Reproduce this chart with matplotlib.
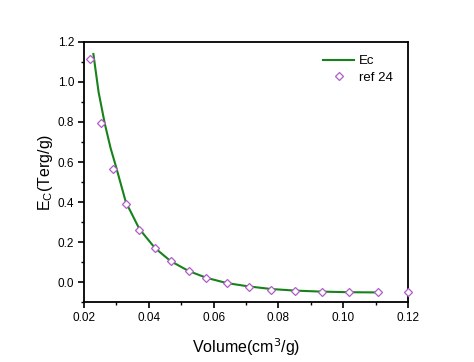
import matplotlib
matplotlib.use("Agg")
import matplotlib.pyplot as plt
from matplotlib.ticker import MultipleLocator

plt.rcParams['font.family'] = ['Liberation Sans', 'DejaVu Sans']

# Ec curve (line)
ec_volume = [0.0229, 0.0245, 0.0264, 0.0282, 0.0300, 0.0329, 0.0371, 0.0419,
             0.0467, 0.0523, 0.0578, 0.0640, 0.0708, 0.0778, 0.0852, 0.0933,
             0.1017, 0.1108]
ec_values = [1.14, 0.95, 0.793, 0.67, 0.57, 0.40, 0.265, 0.170,
             0.105, 0.055, 0.021, -0.005, -0.022, -0.035, -0.043, -0.048,
             -0.051, -0.052]

# ref 24 points (markers)
ref_volume = [0.0218, 0.0252, 0.0288, 0.0329, 0.0371, 0.0419, 0.0467, 0.0523,
              0.0578, 0.0640, 0.0708, 0.0778, 0.0852, 0.0933, 0.1017, 0.1108,
              0.1200]
ref_values = [1.115, 0.793, 0.563, 0.391, 0.260, 0.169, 0.104, 0.055,
              0.020, -0.007, -0.023, -0.038, -0.043, -0.050, -0.052, -0.052,
              -0.052]

fig = plt.figure(figsize=(4.74, 3.62), dpi=100)
ax = fig.add_axes([0.1772, 0.1657, 0.6836, 0.7183])

ax.plot(ec_volume, ec_values, color='#17821a', lw=1.5, label='Ec', zorder=2)
ax.plot(ref_volume, ref_values, linestyle='none', marker='D', markersize=4.5,
        markerfacecolor='white', markeredgecolor='#b05cc8', markeredgewidth=0.9,
        label='ref 24', zorder=3, clip_on=False)

ax.set_xlim(0.02, 0.12)
ax.set_ylim(-0.1, 1.2)
ax.xaxis.set_minor_locator(MultipleLocator(0.01))
ax.yaxis.set_minor_locator(MultipleLocator(0.1))
ax.set_xticks([0.02, 0.04, 0.06, 0.08, 0.10, 0.12])
ax.set_xticklabels(['0.02', '0.04', '0.06', '0.08', '0.10', '0.12'])
ax.set_yticks([0.0, 0.2, 0.4, 0.6, 0.8, 1.0, 1.2])
ax.set_yticklabels(['0.0', '0.2', '0.4', '0.6', '0.8', '1.0', '1.2'])

ax.tick_params(which='major', direction='out', length=4, width=1.2, labelsize=8.5, pad=3)
ax.tick_params(which='minor', direction='out', length=2.5, width=1.0)
for s in ax.spines.values():
    s.set_linewidth(1.3)

ax.set_xlabel('Volume(cm$^3$/g)', fontsize=11.5, labelpad=9)
ax.set_ylabel('E$_\\mathregular{C}$(Terg/g)', fontsize=11.5, labelpad=2)

leg = ax.legend(loc='upper right', frameon=False, fontsize=9.5,
                bbox_to_anchor=(0.99, 0.995), handlelength=2.3, handletextpad=0.4,
                labelspacing=0.3)

fig.savefig('out.png', dpi=100)
